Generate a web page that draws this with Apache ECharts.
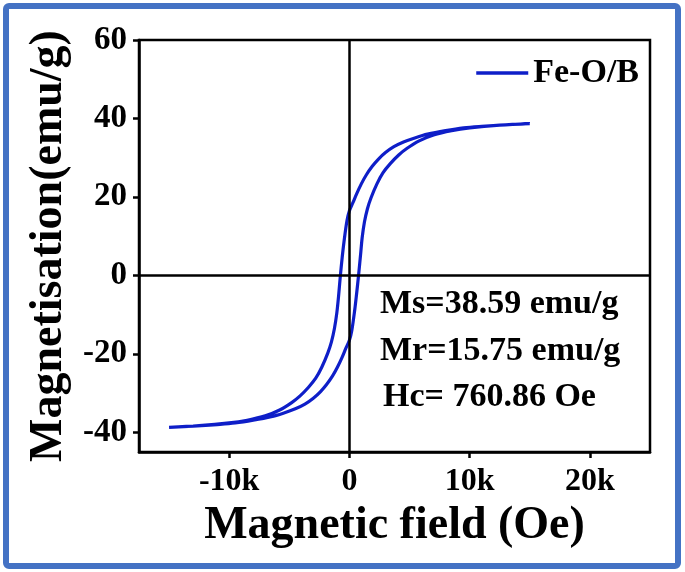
<!DOCTYPE html>
<html>
<head>
<meta charset="utf-8">
<script src="https://cdn.jsdelivr.net/npm/echarts@6.0.0/dist/echarts.min.js"></script>
<style>
html,body{margin:0;padding:0;background:#fff;}
#wrap{position:relative;width:685px;height:572px;}
#chart{position:absolute;left:0;top:0;width:685px;height:572px;}
#frame{position:absolute;left:3px;top:3px;width:666px;height:554px;border:6.5px solid #4472c4;border-radius:6px;pointer-events:none;}
</style>
</head>
<body>
<div id="wrap"><div id="chart"></div><div id="frame"></div></div>
<script>
// Descending branch (field swept from +15 kOe to -15 kOe)
const descField = [15000, 13000, 11000, 9500, 8000, 6500, 5500, 4500, 3700, 3000, 2400, 1900, 1400, 1000, 600, 300, 0, -200, -450, -600, -750, -900, -1050, -1250, -1500, -1800, -2300, -2800, -3400, -4100, -4800, -5800, -7000, -8500, -10000, -12500, -15000];
const descMag   = [38.7, 38.4, 38.0, 37.6, 36.9, 36.0, 35.1, 34.0, 32.8, 31.3, 29.6, 27.8, 25.6, 23.4, 20.8, 18.6, 16.5, 14.0, 8.6, 4.6, 0, -5.2, -9.6, -13.6, -17.0, -19.8, -23.4, -26.2, -28.5, -30.7, -32.4, -34.3, -35.8, -36.9, -37.6, -38.3, -38.7];
// Ascending branch (field swept from -15 kOe to +15 kOe)
const ascField = [-15000, -13000, -11000, -9500, -8000, -6500, -5500, -4500, -3700, -3000, -2400, -1900, -1400, -1000, -600, -300, 0, 200, 450, 600, 760, 950, 1060, 1250, 1500, 1800, 2300, 2800, 3400, 4100, 4800, 5800, 7000, 8500, 10000, 12500, 15000];
const ascMag   = [-38.7, -38.4, -38.0, -37.6, -36.9, -36.0, -35.1, -34.0, -32.8, -31.3, -29.6, -27.8, -25.6, -23.4, -20.8, -18.6, -16.5, -14.0, -8.6, -4.6, 0, 6.0, 9.6, 13.6, 17.0, 19.8, 23.4, 26.2, 28.5, 30.7, 32.4, 34.3, 35.8, 36.9, 37.6, 38.3, 38.7];

const xTickValues = [-10000, 0, 10000, 20000];
const xTickLabels = ['-10k', '0', '10k', '20k'];
const yTickValues = [-40, -20, 0, 20, 40, 60];
const yTickLabels = ['-40', '-20', '0', '20', '40', '60'];

const seriesName = 'Fe-O/B';
const notes = ['Ms=38.59 emu/g', 'Mr=15.75 emu/g', 'Hc= 760.86 Oe'];

const loop = [];
descField.forEach((x, i) => loop.push([x, descMag[i]]));
ascField.forEach((x, i) => loop.push([x, ascMag[i]]));

const FONT = 'Liberation Serif';
const BLUE = '#0e1ec8';
const chart = echarts.init(document.getElementById('chart'), null, {renderer: 'canvas'});
chart.setOption({
  animation: false,
  backgroundColor: '#fff',
  grid: {left: 139, right: 35, top: 40, bottom: 120, show: true, borderColor: '#000', borderWidth: 2.5, backgroundColor: 'transparent'},
  legend: {
    data: [{name: seriesName, icon: 'rect'}], right: 46, top: 56, padding: 0,
    itemWidth: 52, itemHeight: 3.5, itemGap: 4,
    itemStyle: {color: BLUE},
    textStyle: {fontFamily: FONT, fontWeight: 'bold', fontSize: 34, color: '#000'}
  },
  xAxis: {
    type: 'value', min: -17500, max: 25000,
    axisLine: {onZero: false, lineStyle: {color: '#000', width: 2.5}},
    axisTick: {show: true, inside: false, length: 6, lineStyle: {color: '#000', width: 2.5}, customValues: xTickValues},
    axisLabel: {customValues: xTickValues, margin: 14, color: '#000', fontFamily: FONT, fontWeight: 'bold', fontSize: 32,
      formatter: v => xTickLabels[xTickValues.indexOf(v)]},
    splitLine: {show: false},
    name: 'Magnetic field (Oe)', nameLocation: 'middle', nameGap: 48,
    nameTextStyle: {color: '#000', fontFamily: FONT, fontWeight: 'bold', fontSize: 46}
  },
  yAxis: {
    type: 'value', min: -45, max: 60,
    axisLine: {onZero: false, lineStyle: {color: '#000', width: 2.5}},
    axisTick: {show: true, inside: false, length: 6, lineStyle: {color: '#000', width: 2.5}, customValues: yTickValues},
    axisLabel: {customValues: yTickValues, margin: 12, color: '#000', fontFamily: FONT, fontWeight: 'bold', fontSize: 33,
      formatter: v => yTickLabels[yTickValues.indexOf(v)]},
    splitLine: {show: false},
    name: 'Magnetisation(emu/g)', nameLocation: 'middle', nameGap: 64,
    nameTextStyle: {color: '#000', fontFamily: FONT, fontWeight: 'bold', fontSize: 46}
  },
  series: [{
    name: seriesName, type: 'line', data: loop, symbol: 'none', smooth: 0.35,
    lineStyle: {color: BLUE, width: 3.2}, itemStyle: {color: BLUE},
    markLine: {
      silent: true, symbol: ['none', 'none'], label: {show: false},
      lineStyle: {color: '#000', width: 2.5, type: 'solid'},
      data: [{xAxis: 0}, {yAxis: 0}]
    },
    z: 3
  }],
  graphic: notes.map((t, i) => ({
    type: 'text', left: [380, 380, 383][i], top: [287, 334, 380][i],
    style: {text: t, font: 'bold 34px "Liberation Serif"', fill: '#000'}
  }))
});
</script>
</body>
</html>
